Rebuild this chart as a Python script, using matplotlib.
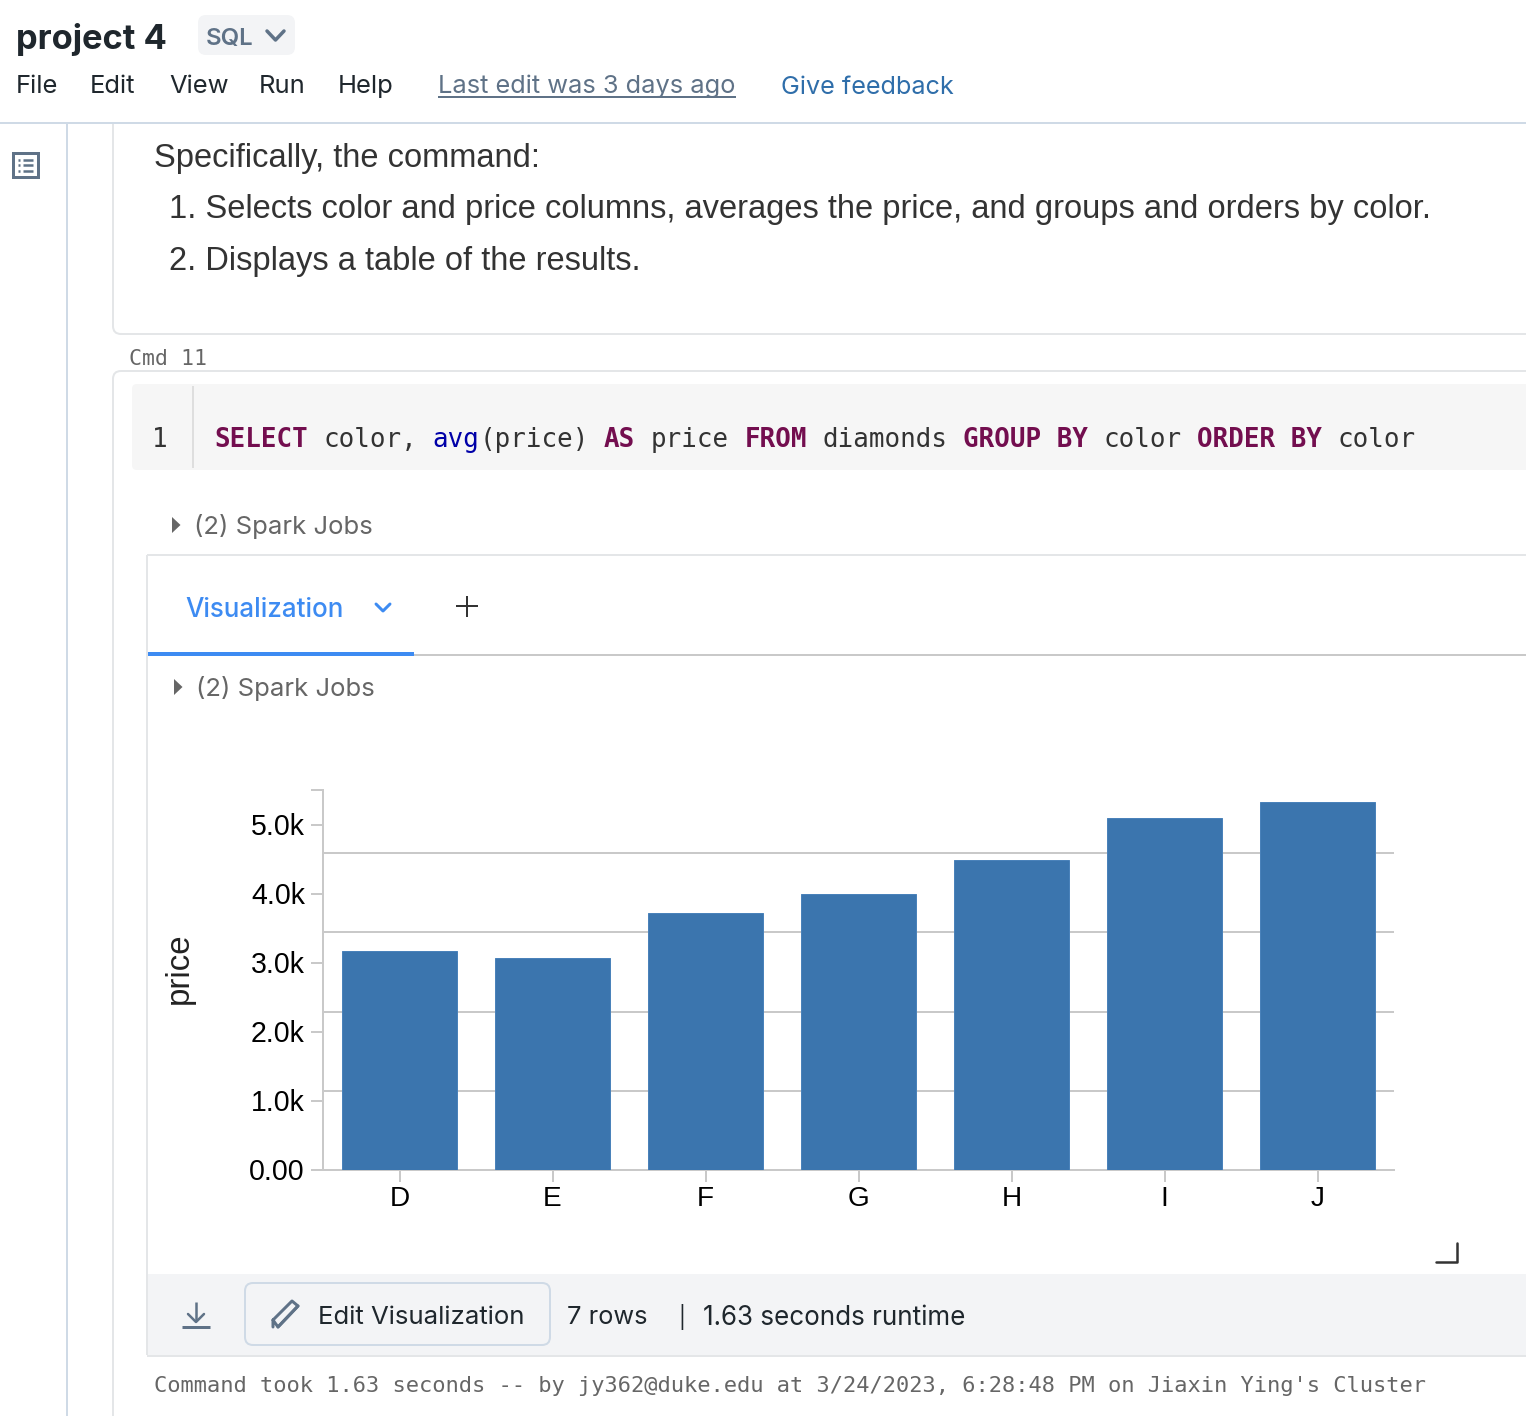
import matplotlib
matplotlib.use('Agg')
import matplotlib.pyplot as plt
from matplotlib.patches import FancyBboxPatch, Polygon, Rectangle
from matplotlib.transforms import ScaledTranslation

colors_cat = ['D', 'E', 'F', 'G', 'H', 'I', 'J']
price = [3174, 3077, 3730, 4000, 4487, 5105, 5335]
ytick_vals = [0, 1000, 2000, 3000, 4000, 5000, 5507]
ytick_labels = ['0.00', '1.0k', '2.0k', '3.0k', '4.0k', '5.0k', '']
grid_vals = [1145, 2295, 3450, 4595]

W, H = 1526, 1416
SANS = 'Inter'
CHART_FONT = 'Liberation Sans'
MONO = 'DejaVu Sans Mono'
SLATE = '#5f7287'
BORDER = '#cfdae6'
LIGHT = '#e4e6e8'
AXIS_GREY = '#c9c9c9'
DARK = '#1f272d'


def px(size):
    # font size in pixels -> points at dpi 100
    return size * 72 / 100


def label(ax, x, y, s, size=25.6, color=DARK, family=SANS, weight='normal', ha='left'):
    return ax.text(x, y - 1, s, fontsize=px(size), color=color, family=family, weight=weight,
                   ha=ha, va='center_baseline')


def hline(ax, x0, x1, y, color=LIGHT, lw=2):
    ax.plot([x0, x1], [y, y], color=color, lw=px(lw), solid_capstyle='butt')


def vline(ax, x, y0, y1, color=LIGHT, lw=2):
    ax.plot([x, x], [y0, y1], color=color, lw=px(lw), solid_capstyle='butt')


def polyline(ax, xs, ys, color, lw=3):
    ax.plot(xs, ys, color=color, lw=px(lw), solid_capstyle='round', solid_joinstyle='round')


def box(ax, x, y, w, h, face='none', edge='none', lw=2, radius=8, z=1):
    patch = FancyBboxPatch((x, y), w, h, boxstyle=f'round,pad=0,rounding_size={radius}',
                           facecolor=face, edgecolor=edge, lw=px(lw), zorder=z)
    ax.add_patch(patch)
    return patch


fig = plt.figure(figsize=(W / 100, H / 100), dpi=100, facecolor='white')

# page chrome, drawn in pixel coordinates
ui = fig.add_axes([0, 0, 1, 1])
ui.set_xlim(0, W)
ui.set_ylim(H, 0)
ui.axis('off')

# header
label(ui, 16, 37, 'project 4', size=34.5, weight='bold')
box(ui, 198, 15, 97, 40, face='#f3f4f6')
label(ui, 206, 37, 'SQL', size=24, color=SLATE, weight='semibold')
polyline(ui, [267, 275.5, 284], [31, 40, 31], SLATE, lw=3.5)
for x, s in zip([16, 90, 169, 259, 338], ['File', 'Edit', 'View', 'Run', 'Help']):
    label(ui, x, 85, s)
label(ui, 438, 85, 'Last edit was 3 days ago', size=25.4, color=SLATE)
hline(ui, 438, 736, 96.5, color=SLATE)
label(ui, 781, 86, 'Give feedback', size=25.2, color='#2f6eaa')
hline(ui, 0, W, 123, color=BORDER)
vline(ui, 67, 124, H, color=BORDER)

# sidebar icon
ui.add_patch(Rectangle((12.5, 153), 25, 24, facecolor='none', edgecolor=SLATE, lw=px(3)))
for y in [159.5, 165, 170.5]:
    ui.plot([18, 20], [y, y], color=SLATE, lw=px(2.5), solid_capstyle='butt')
    hline(ui, 23, 33, y, color=SLATE, lw=2.5)

# markdown cell, only its lower part is on screen
md_card = box(ui, 113, 60, 1500, 274, edge=LIGHT)
md_card.set_clip_path(Rectangle((0, 124), W, H - 124, transform=ui.transData))
label(ui, 154, 156, 'Specifically, the command:', size=32.6, color='#333333', family=CHART_FONT)
label(ui, 169, 207, '1. Selects color and price columns, averages the price, and groups and orders by color.',
      size=32.6, color='#333333', family=CHART_FONT)
label(ui, 169, 259, '2. Displays a table of the results.', size=32.6, color='#333333', family=CHART_FONT)

# code cell
label(ui, 129, 358, 'Cmd 11', size=21.5, color='#666666', family=MONO)
box(ui, 113, 371, 1500, 1100, edge=LIGHT)
box(ui, 132, 384, 1500, 86, face='#f6f6f6', radius=5)
vline(ui, 193, 386, 468, color='#dedede')
label(ui, 152, 438, '1', size=26, color='#333333', family=MONO)
code_parts = [(0, 'SELECT', '#730e4f', 'bold'), (7, 'color,', '#333333', 'normal'),
              (14, 'avg', '#0000a8', 'normal'), (17, '(price)', '#333333', 'normal'),
              (25, 'AS', '#730e4f', 'bold'), (28, 'price', '#333333', 'normal'),
              (34, 'FROM', '#730e4f', 'bold'), (39, 'diamonds', '#333333', 'normal'),
              (48, 'GROUP BY', '#730e4f', 'bold'), (57, 'color', '#333333', 'normal'),
              (63, 'ORDER BY', '#730e4f', 'bold'), (72, 'color', '#333333', 'normal')]
for idx, s, col, wt in code_parts:
    label(ui, 214 + idx * 15.6, 438, s, size=25.9, color=col, family=MONO, weight=wt)

for y, tx in [(525, 172), (687, 174)]:
    ui.add_patch(Polygon([[tx, y - 8], [tx + 8.5, y], [tx, y + 8]], facecolor='#666666', edgecolor='none'))
    label(ui, tx + 22, y, '(2) Spark Jobs', size=25.7, color='#666666')

# result panel
hline(ui, 147, W, 555)
vline(ui, 147, 555, 1355)
label(ui, 185, 608, 'Visualization', size=26, color='#3d8bf2', weight='medium')
polyline(ui, [376, 383, 390], [604, 611, 604], '#3d8bf2')
hline(ui, 456, 478, 606, color='#333333')
vline(ui, 467, 596, 617, color='#333333')
hline(ui, 414, W, 655, color=AXIS_GREY)
hline(ui, 148, 414, 654, color='#3d8bf2', lw=4)

# resize handle
polyline(ui, [1436, 1457, 1457], [1262, 1262, 1243], '#333333', lw=2.5)

# footer
ui.add_patch(Rectangle((148, 1274), W - 148, 81, facecolor='#f3f4f6', edgecolor='none'))
hline(ui, 147, W, 1355.5)
vline(ui, 196, 1302, 1321, color=SLATE, lw=2.5)
polyline(ui, [188, 196, 204], [1314, 1322, 1314], SLATE, lw=2.5)
hline(ui, 182, 210, 1327, color=SLATE, lw=3)
box(ui, 245, 1283, 305, 62, edge=BORDER, radius=8, z=2)
polyline(ui, [273, 273, 278, 298, 292, 273], [1327, 1320, 1327, 1306, 1301, 1320], SLATE, lw=3)
polyline(ui, [278, 298], [1327, 1306], SLATE, lw=3)
label(ui, 318, 1316, 'Edit Visualization', size=25.8)
label(ui, 567, 1316, '7 rows', size=25.4)
label(ui, 678, 1316, '|', size=21)
label(ui, 703, 1316, '1.63 seconds runtime', size=26)
label(ui, 154, 1385, "Command took 1.63 seconds -- by jy362@duke.edu at 3/24/2023, 6:28:48 PM on Jiaxin Ying's Cluster",
      size=21.96, color='#666666', family=MONO)

# bar chart
left, right, top, bottom = 323, 1394, 790, 1170
ax = fig.add_axes([left / W, 1 - bottom / H, (right - left) / W, (bottom - top) / H])
ax.patch.set_alpha(0)
ax.bar(colors_cat, price, width=0.748, color='#3b75ae', edgecolor='#4a82ba', linewidth=px(1), zorder=3)
ax.set_xlim(-0.5, 6.5)
ax.set_ylim(0, ytick_vals[-1])
for g in grid_vals:
    ax.axhline(g, color=AXIS_GREY, lw=px(2), zorder=1)
ax.set_yticks(ytick_vals)
ax.set_yticklabels(ytick_labels, family=CHART_FONT, fontsize=px(28.5), color='black')
ax.tick_params(axis='x', length=px(12), width=px(2), color=AXIS_GREY, pad=px(4),
               labelsize=px(28), labelcolor='black', labelfontfamily=CHART_FONT)
ax.tick_params(axis='y', length=px(12), width=px(2), color=AXIS_GREY, pad=px(6))
# nudge y labels up a pixel
nudge = ScaledTranslation(0, 1 / 100, fig.dpi_scale_trans)
for tick_label in ax.get_yticklabels():
    tick_label.set_transform(tick_label.get_transform() + nudge)
for side in ['top', 'right']:
    ax.spines[side].set_visible(False)
for side in ['left', 'bottom']:
    ax.spines[side].set_color(AXIS_GREY)
    ax.spines[side].set_linewidth(px(2))
ax.set_ylabel('price', family=CHART_FONT, fontsize=px(33), color='#222222', va='center')
ax.yaxis.set_label_coords((179 - left) / (right - left), (bottom - 968) / (bottom - top))

fig.savefig('out.png', dpi=100)
